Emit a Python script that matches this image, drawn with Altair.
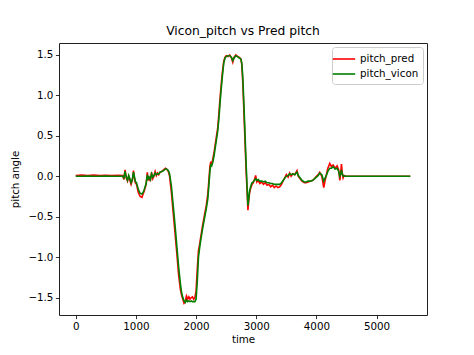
import altair as alt
import pandas as pd

times = [
    0, 100, 200, 300, 400, 500, 600, 700, 780,
    800, 820, 840, 860, 880, 900, 920, 940, 960, 975, 990,
    1010, 1040, 1070, 1100, 1120, 1140, 1170, 1190, 1205, 1220,
    1240, 1260, 1280, 1300, 1320, 1340, 1360, 1380, 1400, 1430,
    1460, 1490, 1510, 1540, 1560, 1590, 1620, 1650, 1680, 1710,
    1740, 1760, 1780, 1800, 1820, 1840, 1860, 1880, 1900, 1920,
    1940, 1960, 1980, 2000, 2020, 2040, 2060, 2080, 2110, 2140,
    2170, 2195, 2210, 2230, 2245, 2260, 2280, 2300, 2320, 2340,
    2360, 2380, 2400, 2420, 2440, 2460, 2480, 2500, 2530, 2560,
    2590, 2610, 2630, 2660, 2690, 2720, 2745, 2760, 2777, 2790,
    2805, 2820, 2835, 2850, 2862, 2875, 2890, 2910, 2930, 2950,
    2970, 2990, 3010, 3030, 3060, 3090, 3120, 3150, 3180, 3210,
    3240, 3270, 3300, 3330, 3360, 3390, 3420, 3450, 3475, 3500,
    3530, 3555, 3580, 3610, 3640, 3677, 3700, 3730, 3760, 3800,
    3830, 3860, 3900, 3940, 3970, 4000, 4030, 4055, 4090, 4122,
    4145, 4166, 4190, 4222, 4250, 4277, 4310, 4344, 4370, 4389,
    4405, 4416, 4430, 4444, 4460, 4488, 4600, 4800, 5000, 5200, 5400, 5560,
]

pitch_pred = [
    0.01, 0.015, 0.01, 0.015, 0.008, 0.012, 0.01, 0.012, 0.01,
    -0.04, 0.08, -0.02, -0.06, 0.0, -0.05, -0.1, -0.05, 0.07, -0.02, -0.08,
    -0.1, -0.2, -0.25, -0.26, -0.22, -0.18, -0.1, 0.05, -0.05, -0.02,
    -0.06, 0.05, -0.03, 0.0, 0.06, 0.01, 0.04, 0.02, 0.05, 0.06,
    0.08, 0.1, 0.09, 0.06, 0.0, -0.2, -0.45, -0.7, -0.95, -1.22,
    -1.4, -1.47, -1.52, -1.57, -1.55, -1.48, -1.52, -1.49, -1.52, -1.5,
    -1.49, -1.52, -1.5, -1.42, -1.15, -0.92, -0.84, -0.74, -0.6, -0.48,
    -0.36, -0.22, -0.08, 0.12, 0.18, 0.14, 0.22, 0.3, 0.4, 0.5,
    0.6, 0.78, 0.98, 1.15, 1.3, 1.42, 1.47, 1.49, 1.48, 1.5,
    1.46, 1.41, 1.47, 1.5, 1.48, 1.47, 1.45, 1.38, 1.15, 0.9,
    0.6, 0.3, 0.02, -0.22, -0.42, -0.3, -0.2, -0.14, -0.1, -0.08,
    -0.04, 0.01, -0.07, -0.05, -0.09, -0.07, -0.1, -0.08, -0.11, -0.1,
    -0.13, -0.11, -0.14, -0.12, -0.14, -0.13, -0.1, -0.05, -0.02, 0.02,
    -0.01, 0.04, 0.0, 0.03, 0.02, 0.07, 0.0, -0.03, -0.06, -0.08,
    -0.08, -0.07, -0.06, -0.05, -0.03, 0.0, 0.02, 0.05, 0.0, -0.14,
    -0.05, 0.02, 0.1, 0.16, 0.12, 0.14, 0.1, 0.13, 0.08, -0.05,
    0.05, 0.15, 0.04, -0.02, 0.01, 0.0, 0.0, 0.0, 0.0, 0.0, 0.0, 0.0,
]

pitch_vicon = [
    0.0, 0.0, 0.002, 0.0, 0.0, 0.002, 0.0, 0.0, 0.0,
    -0.02, 0.06, -0.01, -0.05, 0.01, -0.03, -0.08, -0.04, 0.05, 0.0, -0.06,
    -0.08, -0.16, -0.21, -0.22, -0.2, -0.16, -0.09, 0.02, -0.03, -0.01,
    -0.04, 0.03, -0.01, 0.01, 0.04, 0.02, 0.03, 0.03, 0.05, 0.06,
    0.07, 0.09, 0.09, 0.07, 0.03, -0.12, -0.36, -0.6, -0.86, -1.12,
    -1.33, -1.44, -1.5, -1.54, -1.56, -1.53, -1.55, -1.54, -1.55, -1.54,
    -1.55, -1.55, -1.55, -1.52, -1.3, -1.0, -0.88, -0.78, -0.64, -0.52,
    -0.4, -0.28, -0.14, 0.06, 0.14, 0.13, 0.18, 0.26, 0.36, 0.46,
    0.56, 0.72, 0.92, 1.1, 1.26, 1.4, 1.46, 1.48, 1.49, 1.49,
    1.47, 1.43, 1.46, 1.49, 1.48, 1.46, 1.45, 1.4, 1.22, 0.98,
    0.7, 0.4, 0.1, -0.16, -0.36, -0.28, -0.18, -0.12, -0.08, -0.07,
    -0.05, -0.03, -0.05, -0.04, -0.06, -0.06, -0.07, -0.06, -0.08, -0.08,
    -0.09, -0.09, -0.1, -0.1, -0.1, -0.1, -0.08, -0.05, -0.02, 0.0,
    0.01, 0.03, 0.02, 0.03, 0.02, 0.05, 0.01, -0.02, -0.05, -0.07,
    -0.07, -0.06, -0.06, -0.05, -0.03, -0.01, 0.01, 0.04, 0.02, -0.06,
    -0.02, 0.01, 0.06, 0.1, 0.1, 0.12, 0.09, 0.1, 0.06, 0.0,
    0.03, 0.08, 0.03, 0.0, 0.005, 0.0, 0.0, 0.0, 0.0, 0.0, 0.0, 0.0,
]

series_names = ["pitch_pred", "pitch_vicon"]
series_colors = ["red", "green"]
x_ticks = [0, 1000, 2000, 3000, 4000, 5000]
y_ticks = [-1.5, -1.0, -0.5, 0.0, 0.5, 1.0, 1.5]

assert len(times) == len(pitch_pred) == len(pitch_vicon)

rows = []
for name, vals in zip(series_names, [pitch_pred, pitch_vicon]):
    for i, (t, v) in enumerate(zip(times, vals)):
        rows.append({"time": t, "value": v, "series": name, "idx": i})
df = pd.DataFrame(rows)

FONT = "DejaVu Sans"

chart = (
    alt.Chart(df)
    .mark_line(strokeWidth=1.6, clip=True)
    .encode(
        x=alt.X(
            "time:Q",
            title="time",
            scale=alt.Scale(domain=[-278, 5838], nice=False, zero=False),
            axis=alt.Axis(values=x_ticks, format="d"),
        ),
        y=alt.Y(
            "value:Q",
            title="pitch angle",
            scale=alt.Scale(domain=[-1.715, 1.648], nice=False, zero=False),
            axis=alt.Axis(
                values=y_ticks,
                format=".1f",
                labelExpr="replace(format(datum.value, '.1f'), '-', '\u2212')",
            ),
        ),
        color=alt.Color(
            "series:N",
            scale=alt.Scale(domain=series_names, range=series_colors),
            legend=alt.Legend(
                title=None,
                orient="top-right",
                offset=4,
                fillColor="white",
                strokeColor="#cccccc",
                cornerRadius=3,
                padding=4,
                symbolType="M-1.6,0H1.6",
                symbolSize=196,
                symbolStrokeWidth=1.6,
                labelFontSize=10.3,
                labelFont=FONT,
                labelColor="black",
                labelOffset=8,
                rowPadding=1,
            ),
        ),
        order="idx:Q",
    )
    .properties(
        width=368,
        height=272,
        title=alt.TitleParams(
            "Vicon_pitch vs Pred pitch",
            font=FONT,
            fontSize=12.3,
            fontWeight="normal",
            color="black",
            offset=6,
        ),
        autosize=alt.AutoSizeParams(type="none"),
        padding={"left": 59, "top": 43, "right": 47, "bottom": 40},
    )
    .configure_view(stroke="#222222", strokeWidth=1)
    .configure_axis(
        grid=False,
        domain=False,
        tickColor="black",
        tickWidth=0.8,
        tickSize=3.6,
        labelFont=FONT,
        labelFontSize=10.3,
        labelColor="black",
        labelPadding=2.5,
        titleFont=FONT,
        titleFontSize=10.3,
        titleFontWeight="normal",
        titleColor="black",
    )
    .configure_axisY(titlePadding=7)
    .configure_axisX(titlePadding=3)
)

chart.save("out.html", embed_options={"renderer": "svg", "actions": False})
